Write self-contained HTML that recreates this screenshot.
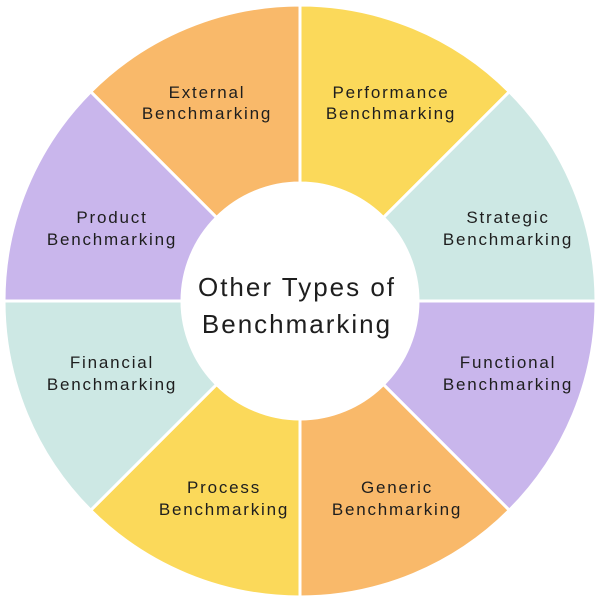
<!DOCTYPE html>
<html><head><meta charset="utf-8"><style>
html,body{margin:0;padding:0;background:#fff;}
svg{display:block;}
text{font-family:"Liberation Sans",sans-serif;fill:#1e1e1e;text-anchor:middle;}
.l{font-size:17px;letter-spacing:1.8px;}
.c{font-size:26px;letter-spacing:2px;}
</style></head><body>
<svg width="600" height="608" viewBox="0 0 600 608" xmlns="http://www.w3.org/2000/svg">
<g stroke="#fff" stroke-width="3" stroke-linejoin="round">
<path fill="#F9B96A" d="M90.7,91.7 A296,296 0 0 1 300,5 L300,183 A118,118 0 0 0 216.6,217.6 Z"/>
<path fill="#FBD95A" d="M300,5 A296,296 0 0 1 509.3,91.7 L383.4,217.6 A118,118 0 0 0 300,183 Z"/>
<path fill="#CDE8E4" d="M509.3,91.7 A296,296 0 0 1 596,301 L418,301 A118,118 0 0 0 383.4,217.6 Z"/>
<path fill="#C9B6EC" d="M596,301 A296,296 0 0 1 509.3,510.3 L383.4,384.4 A118,118 0 0 0 418,301 Z"/>
<path fill="#F9B96A" d="M509.3,510.3 A296,296 0 0 1 300,597 L300,419 A118,118 0 0 0 383.4,384.4 Z"/>
<path fill="#FBD95A" d="M300,597 A296,296 0 0 1 90.7,510.3 L216.6,384.4 A118,118 0 0 0 300,419 Z"/>
<path fill="#CDE8E4" d="M90.7,510.3 A296,296 0 0 1 4,301 L182,301 A118,118 0 0 0 216.6,384.4 Z"/>
<path fill="#C9B6EC" d="M4,301 A296,296 0 0 1 90.7,91.7 L216.6,217.6 A118,118 0 0 0 182,301 Z"/>
</g>
<text class="l" x="207" y="98">External</text><text class="l" x="207" y="119">Benchmarking</text>
<text class="l" x="391" y="98">Performance</text><text class="l" x="391" y="119">Benchmarking</text>
<text class="l" x="508" y="223">Strategic</text><text class="l" x="508" y="245">Benchmarking</text>
<text class="l" x="508" y="368">Functional</text><text class="l" x="508" y="390">Benchmarking</text>
<text class="l" x="397" y="493">Generic</text><text class="l" x="397" y="515">Benchmarking</text>
<text class="l" x="224" y="493">Process</text><text class="l" x="224" y="515">Benchmarking</text>
<text class="l" x="112" y="368">Financial</text><text class="l" x="112" y="390">Benchmarking</text>
<text class="l" x="112" y="223">Product</text><text class="l" x="112" y="245">Benchmarking</text>
<text class="c" x="297" y="296">Other Types of</text>
<text class="c" x="297" y="333">Benchmarking</text>
</svg>
</body></html>
